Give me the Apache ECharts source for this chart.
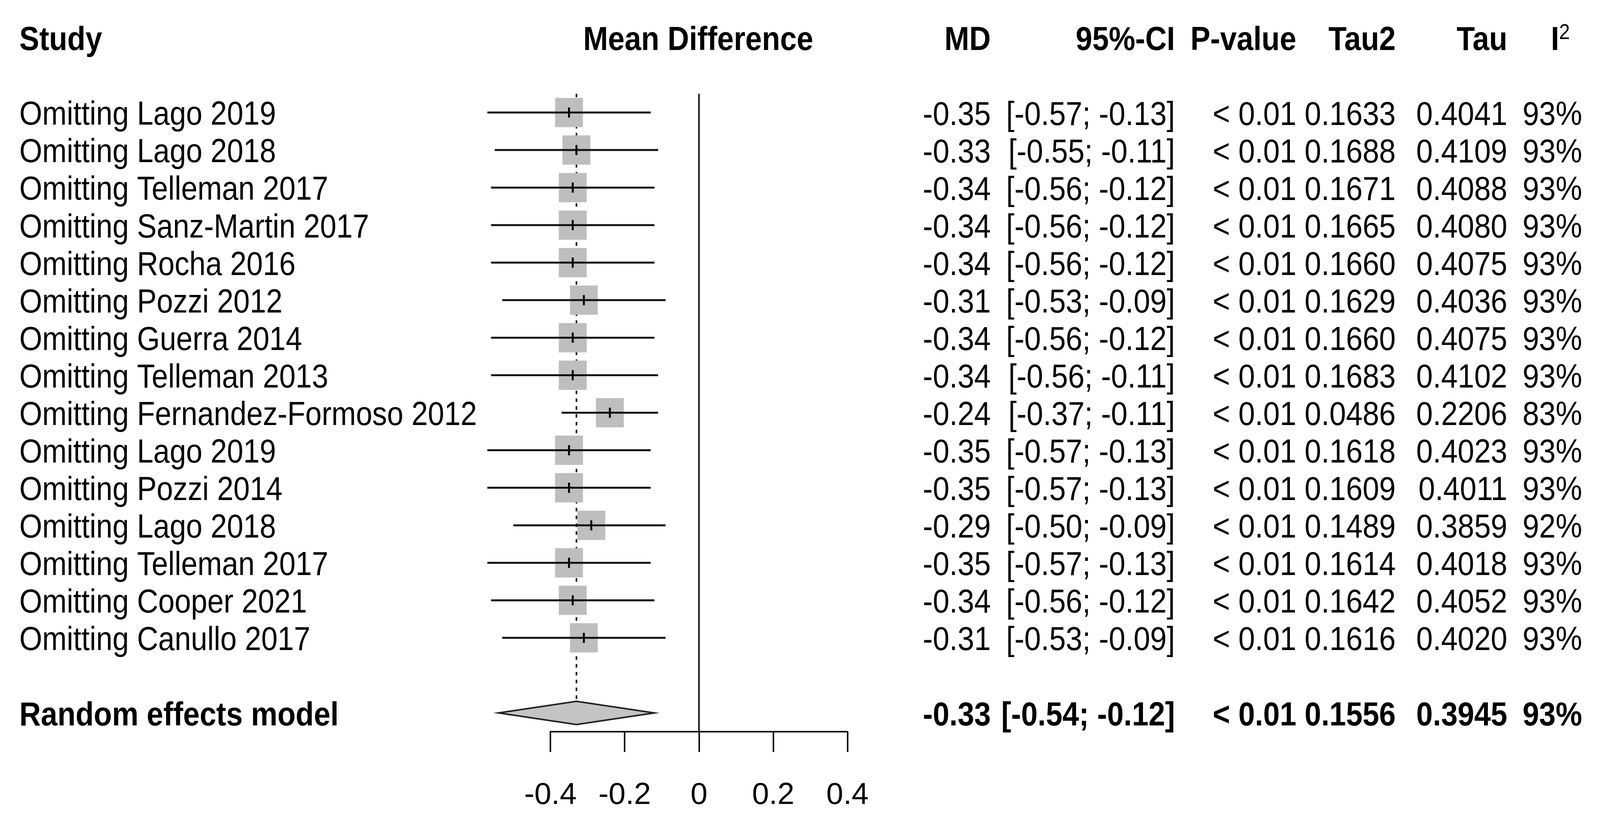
<!DOCTYPE html>
<html>
<head>
<meta charset="utf-8">
<script src="https://cdn.jsdelivr.net/npm/echarts@6/dist/echarts.min.js"></script>
<style>
html,body{margin:0;padding:0;background:#ffffff;overflow:hidden;width:100%;height:100%;}
#chart{width:100vw;height:100vh;}
</style>
</head>
<body>
<div id="chart"></div>
<script>
// ---------------- data ----------------
const studies = [
  "Omitting Lago 2019", "Omitting Lago 2018", "Omitting Telleman 2017",
  "Omitting Sanz-Martin 2017", "Omitting Rocha 2016", "Omitting Pozzi 2012",
  "Omitting Guerra 2014", "Omitting Telleman 2013", "Omitting Fernandez-Formoso 2012",
  "Omitting Lago 2019", "Omitting Pozzi 2014", "Omitting Lago 2018",
  "Omitting Telleman 2017", "Omitting Cooper 2021", "Omitting Canullo 2017"
];
const md     = [-0.35, -0.33, -0.34, -0.34, -0.34, -0.31, -0.34, -0.34, -0.24, -0.35, -0.35, -0.29, -0.35, -0.34, -0.31];
const ciLow  = [-0.57, -0.55, -0.56, -0.56, -0.56, -0.53, -0.56, -0.56, -0.37, -0.57, -0.57, -0.50, -0.57, -0.56, -0.53];
const ciHigh = [-0.13, -0.11, -0.12, -0.12, -0.12, -0.09, -0.12, -0.11, -0.11, -0.13, -0.13, -0.09, -0.13, -0.12, -0.09];
const pValues = ["< 0.01","< 0.01","< 0.01","< 0.01","< 0.01","< 0.01","< 0.01","< 0.01","< 0.01","< 0.01","< 0.01","< 0.01","< 0.01","< 0.01","< 0.01"];
const tau2 = ["0.1633","0.1688","0.1671","0.1665","0.1660","0.1629","0.1660","0.1683","0.0486","0.1618","0.1609","0.1489","0.1614","0.1642","0.1616"];
const tau  = ["0.4041","0.4109","0.4088","0.4080","0.4075","0.4036","0.4075","0.4102","0.2206","0.4023","0.4011","0.3859","0.4018","0.4052","0.4020"];
const i2   = ["93%","93%","93%","93%","93%","93%","93%","93%","83%","93%","93%","92%","93%","93%","93%"];

const pooledLabel = "Random effects model";
const pooledMD = -0.33;
const pooledLow = -0.54;
const pooledHigh = -0.12;
const pooledP = "< 0.01";
const pooledTau2 = "0.1556";
const pooledTau = "0.3945";
const pooledI2 = "93%";

const headers = ["Study", "Mean Difference", "MD", "95%-CI", "P-value", "Tau2", "Tau", "I", "2"];
const xTicks = [-0.4, -0.2, 0, 0.2, 0.4];

// ---------------- layout / style (reference is 4299 x 2117; scaled to the actual viewport) ----------------
const chart = echarts.init(document.getElementById('chart'));
const W = chart.getWidth(), H = chart.getHeight();
const sx = W / 4299, sy = H / 2117;
const X = v => v * sx, Y = v => v * sy;

const FONT = '"Liberation Sans", Arial, Helvetica, sans-serif';
const FS = 80;
const FS_LABEL = 79;
const SY_TEXT = 1.07;
const TEXT_DY = 8;
const BOX = 75;
const HEADER_ROW = -1;
const POOLED_ROW = 17;
const DIAMOND_HALF = 0.31;

const colLeft = 52;
const colCenter = 1876;
const colMD = 2662, colCI = 3157, colP = 3483, colTau2 = 3750, colTau = 4050, colI2 = 4251;

function fmtCI(lo, hi){ return "[" + lo.toFixed(2) + "; " + hi.toFixed(2) + "]"; }

const tableRows = [];
studies.forEach((s, i) => {
  tableRows.push({row: i + 1, bold: false, cells: [
    [colLeft, 'left', s, FS_LABEL],
    [colMD, 'right', md[i].toFixed(2)],
    [colCI, 'right', fmtCI(ciLow[i], ciHigh[i])],
    [colP, 'right', pValues[i]],
    [colTau2, 'right', tau2[i]],
    [colTau, 'right', tau[i]],
    [colI2, 'right', i2[i]]
  ]});
});
tableRows.push({row: POOLED_ROW, bold: true, cells: [
  [colLeft, 'left', pooledLabel],
  [colMD, 'right', pooledMD.toFixed(2)],
  [colCI, 'right', fmtCI(pooledLow, pooledHigh)],
  [colP, 'right', pooledP],
  [colTau2, 'right', pooledTau2],
  [colTau, 'right', pooledTau],
  [colI2, 'right', pooledI2]
]});
tableRows.push({row: HEADER_ROW, bold: true, cells: [
  [colLeft, 'left', headers[0]],
  [colCenter, 'center', headers[1]],
  [colMD, 'right', headers[2]],
  [colCI, 'right', headers[3]],
  [colP, 'right', headers[4]],
  [colTau2, 'right', headers[5]],
  [colTau, 'right', headers[6]]
], extra: true});

function textEl(x, y, align, str, bold, size){
  return {
    type: 'text', x: X(x), y: y, scaleX: sx, scaleY: SY_TEXT * sy,
    style: {
      text: str, x: 0, y: 0,
      fontSize: size || FS, fontFamily: FONT, fontWeight: bold ? 'bold' : 'normal',
      fill: '#000000', align: align, verticalAlign: 'middle'
    }
  };
}

const studyData = md.map((m, i) => [m, i + 1, ciLow[i], ciHigh[i]]);

chart.setOption({
  animation: false,
  backgroundColor: '#ffffff',
  grid: { left: X(1479), right: W - X(2277), top: Y(240), bottom: H - Y(1873), containLabel: false },
  xAxis: {
    type: 'value', min: -0.4, max: 0.4, interval: 0.2,
    splitLine: { show: false },
    axisLine: { show: true, onZero: false, lineStyle: { color: '#111', width: 4 } },
    axisTick: { show: true, length: Y(52), lineStyle: { color: '#111', width: 4 } },
    axisLabel: {
      show: true, margin: Y(124), fontSize: 78, fontFamily: FONT, color: '#000',
      formatter: v => { const t = xTicks.find(k => Math.abs(k - v) < 1e-9); return t === 0 ? '0' : t.toFixed(1); }
    }
  },
  yAxis: { type: 'value', inverse: true, min: 0.5, max: 17.5, show: false },
  series: [
    { type: 'line', data: [[0, 0.5], [0, 17.5]], symbol: 'none', silent: true,
      lineStyle: { color: '#111', width: 4 }, z: 1 },
    { type: 'line', data: [[pooledMD, 0.5], [pooledMD, POOLED_ROW - DIAMOND_HALF]], symbol: 'none', silent: true,
      lineStyle: { color: '#111', width: 4, type: [9, 11] }, z: 1 },
    {
      type: 'custom', clip: false, z: 2, data: studyData,
      renderItem: function (params, api) {
        const m = api.value(0), r = api.value(1), lo = api.value(2), hi = api.value(3);
        const c = api.coord([m, r]), a = api.coord([lo, r]), b = api.coord([hi, r]);
        const bw = X(BOX), bh = Y(BOX);
        return { type: 'group', children: [
          { type: 'rect', shape: { x: c[0] - bw / 2, y: c[1] - bh / 2, width: bw, height: bh }, style: { fill: '#bebebe' } },
          { type: 'line', shape: { x1: a[0], y1: a[1], x2: b[0], y2: b[1] }, style: { stroke: '#111', lineWidth: 5 } },
          { type: 'line', shape: { x1: c[0], y1: c[1] - Y(13), x2: c[0], y2: c[1] + Y(13) }, style: { stroke: '#000', lineWidth: 5 } }
        ]};
      }
    },
    {
      type: 'custom', clip: false, z: 2, data: [[pooledMD, POOLED_ROW, pooledLow, pooledHigh]],
      renderItem: function (params, api) {
        const m = api.value(0), r = api.value(1), lo = api.value(2), hi = api.value(3);
        const pts = [api.coord([lo, r]), api.coord([m, r - DIAMOND_HALF]), api.coord([hi, r]), api.coord([m, r + DIAMOND_HALF])];
        return { type: 'polygon', shape: { points: pts }, style: { fill: '#c4c4c4', stroke: '#222', lineWidth: 4 } };
      }
    },
    {
      type: 'custom', clip: false, z: 3, data: tableRows.map(t => [0, t.row]),
      renderItem: function (params, api) {
        const t = tableRows[params.dataIndex];
        const y = api.coord([0, api.value(1)])[1] + Y(TEXT_DY);
        const children = t.cells.map(c => textEl(c[0], y, c[1], c[2], t.bold, c[3]));
        if (t.extra) {
          children.push(textEl(4167, y, 'left', headers[7], true));
          children.push(textEl(4189, y - Y(19), 'left', headers[8], false, 52));
        }
        return { type: 'group', children: children };
      }
    }
  ]
});
</script>
</body>
</html>
